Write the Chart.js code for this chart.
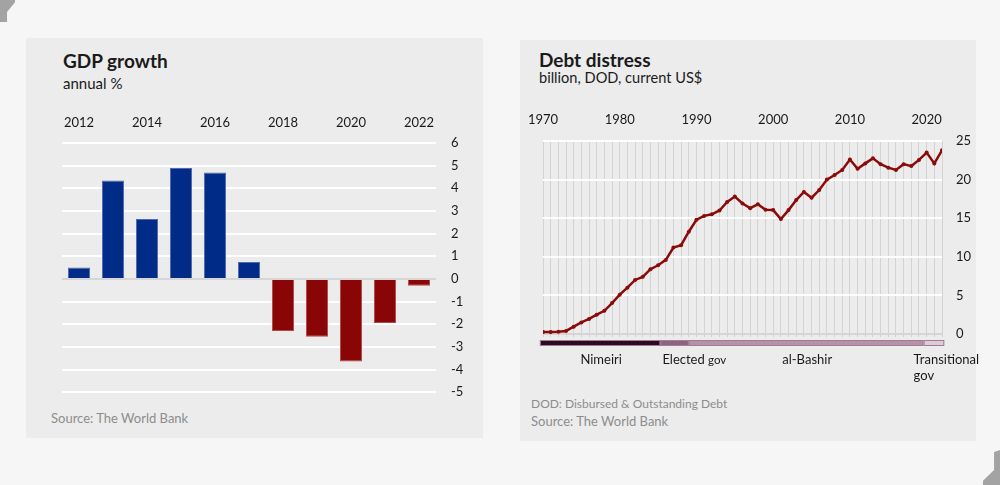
<!DOCTYPE html>
<html>
<head>
<meta charset="utf-8">
<script src="https://cdn.jsdelivr.net/npm/chart.js@4"></script>
<style>
  body { margin: 0; width: 1000px; height: 485px; background: #f6f6f6; position: relative; overflow: hidden; font-family: Lato, sans-serif; color: #1a1a1a; }
  .panel { position: absolute; background: #ececec; }
  .txt { position: absolute; white-space: nowrap; line-height: 1; }
  .title { font-size: 19px; font-weight: bold; }
  .sub { font-size: 15px; }
  .note { font-size: 13px; color: #8c8c8c; }
  canvas { position: absolute; }
  .corner { position: absolute; background: #a3a3a3; }
</style>
</head>
<body>
<div class="corner" style="left:0;top:0;width:15px;height:22px;clip-path:polygon(0 0,100% 0,100% 10%,47% 55%,47% 100%,0 100%);"></div>
<div class="corner" style="left:983px;top:450px;width:17px;height:35px;clip-path:polygon(100% 0,100% 100%,0 100%,0 88%,65% 57%,65% 6%);"></div>

<div class="panel" style="left:26px;top:38px;width:457px;height:400px;"></div>
<div class="panel" style="left:520px;top:40px;width:456px;height:401px;"></div>

<div class="txt title" style="left:63px;top:51px;">GDP growth</div>
<div class="txt sub" style="left:63px;top:76px;">annual %</div>
<div class="txt note" style="left:51px;top:412px;">Source: The World Bank</div>

<div class="txt title" style="left:539px;top:50px;">Debt distress</div>
<div class="txt sub" style="left:539px;top:71px;font-size:14.6px;">billion, DOD, current US$</div>
<div class="txt note" style="left:531px;top:398px;font-size:12px;">DOD: Disbursed &amp; Outstanding Debt</div>
<div class="txt note" style="left:531px;top:415px;">Source: The World Bank</div>

<canvas id="gdp" width="457" height="315" style="left:26px;top:100px;"></canvas>
<canvas id="debt" width="480" height="300" style="left:520px;top:100px;"></canvas>

<script>
// GDP growth, annual %
const gdpYears = ['2012', '2013', '2014', '2015', '2016', '2017', '2018', '2019', '2020', '2021', '2022'];
const gdpGrowth = [0.5, 4.35, 2.65, 4.9, 4.7, 0.75, -2.3, -2.55, -3.65, -1.95, -0.3];
const gdpYearLabels = ['2012', '2014', '2016', '2018', '2020', '2022'];

// external debt stocks, billion current US$
const debtYears = Array.from({ length: 53 }, (_, i) => 1970 + i);
const debtValues = [
  0.25, 0.25, 0.3, 0.4, 0.95, 1.5, 1.95, 2.5, 3.0, 4.0,
  5.1, 6.0, 7.0, 7.4, 8.4, 8.9, 9.6, 11.2, 11.5, 13.25,
  14.8, 15.3, 15.5, 16.0, 17.1, 17.8, 16.9, 16.3, 16.8, 16.1,
  16.05, 14.9, 16.05, 17.35, 18.4, 17.65, 18.65, 20.0, 20.6, 21.25,
  22.6, 21.4, 22.1, 22.75, 22.0, 21.55, 21.25, 22.0, 21.75, 22.55,
  23.5, 22.1, 23.8
];
const debtYearLabels = [1970, 1980, 1990, 2000, 2010, 2020];

// governments along the time axis
const eraNames = ['Nimeiri', 'Elected gov', 'al-Bashir', 'Transitional gov'];
const eraStart = [1969.6, 1985.3, 1989.0, 2019.6];
const eraEnd = [1985.3, 1989.0, 2019.6, 2022.3];

const eraColors = ['#2b0b20', '#8c6480', '#b592a8', '#dcccd6'];
const ink = '#1a1a1a';

Chart.defaults.font.family = 'Lato, sans-serif';
Chart.defaults.color = ink;

new Chart(document.getElementById('gdp'), {
  type: 'bar',
  data: {
    labels: gdpYears,
    datasets: [{
      data: gdpGrowth,
      backgroundColor: c => c.raw >= 0 ? '#002b87' : '#8a0505',
      borderColor: c => c.raw >= 0 ? '#5068b0' : '#b04a4a',
      borderWidth: 1,
      categoryPercentage: 1,
      barPercentage: 0.65
    }]
  },
  options: {
    responsive: false,
    animation: false,
    layout: { padding: { left: 36, right: 0, top: 0, bottom: 0 } },
    plugins: { legend: { display: false }, tooltip: { enabled: false } },
    scales: {
      x: {
        position: 'top',
        grid: { display: false },
        border: { display: false },
        ticks: {
          autoSkip: false, maxRotation: 0, padding: 4, font: { size: 13 },
          callback: function (v) {
            const l = this.getLabelForValue(v);
            return gdpYearLabels.includes(l) ? l : '';
          }
        },
        afterFit: s => { s.height = 43; }
      },
      y: {
        position: 'right',
        min: -5, max: 6,
        ticks: { stepSize: 1, padding: 15, font: { size: 13 } },
        grid: { color: c => c.tick.value === 0 ? '#d6d6d6' : '#ffffff', lineWidth: 2, drawTicks: false },
        border: { display: false },
        afterFit: s => { s.width = 47; }
      }
    }
  }
});

const eraPlugin = {
  id: 'eras',
  afterDraw(chart) {
    const { ctx, chartArea } = chart;
    const xs = chart.scales.x;
    const top = chartArea.bottom + 6;
    const base = chartArea.bottom + 30;
    ctx.save();
    eraStart.forEach((s, i) => {
      const x0 = xs.getPixelForValue(s);
      const x1 = xs.getPixelForValue(eraEnd[i]);
      ctx.fillStyle = eraColors[i];
      ctx.fillRect(x0, top, x1 - x0, 6);
      ctx.strokeStyle = '#a27c94';
      ctx.lineWidth = 1;
      ctx.strokeRect(x0 + 0.5, top + 0.5, x1 - x0 - 1, 5);
    });
    ctx.fillStyle = ink;
    ctx.textBaseline = 'alphabetic';
    const big = '13px Lato, sans-serif';
    ctx.font = big;
    eraNames.forEach((name, i) => {
      const x0 = xs.getPixelForValue(eraStart[i]);
      const x1 = xs.getPixelForValue(eraEnd[i]);
      if (i === 0 || i === 2) {
        ctx.textAlign = 'center';
        ctx.fillText(name, (x0 + x1) / 2 + 1, base);
      } else if (i === 1) {
        const parts = name.split(' ');
        ctx.textAlign = 'left';
        ctx.fillText(parts[0], x0 + 2, base);
        const w = ctx.measureText(parts[0] + ' ').width;
        ctx.font = '11.5px Lato, sans-serif';
        ctx.fillText(parts[1], x0 + 2 + w, base);
        ctx.font = big;
      } else {
        const parts = name.split(' ');
        ctx.textAlign = 'left';
        ctx.fillText(parts[0], x0 - 10, base);
        ctx.fillText(parts[1], x0 - 10, base + 16);
      }
    });
    ctx.restore();
  }
};

new Chart(document.getElementById('debt'), {
  type: 'line',
  data: {
    labels: debtYears,
    datasets: [{
      data: debtValues,
      borderColor: '#8b0a0a',
      backgroundColor: '#8b0a0a',
      borderWidth: 2.5,
      pointRadius: 2,
      pointBorderWidth: 0,
      tension: 0
    }]
  },
  options: {
    responsive: false,
    animation: false,
    layout: { padding: { left: 23, right: 0, top: 0, bottom: 0 } },
    plugins: { legend: { display: false }, tooltip: { enabled: false } },
    scales: {
      x: {
        type: 'linear',
        position: 'top',
        min: 1970, max: 2022,
        z: -1,
        ticks: {
          stepSize: 1, autoSkip: false, maxRotation: 0, padding: 13, font: { size: 13 },
          callback: v => debtYearLabels.includes(v) ? String(v) : ''
        },
        grid: { color: '#d3d3d3', lineWidth: 1, drawTicks: false },
        border: { display: false },
        afterFit: s => { s.height = 41; s.paddingLeft = 0; s.paddingRight = 0; }
      },
      x2: {
        type: 'linear',
        position: 'bottom',
        min: 1970, max: 2022,
        ticks: { stepSize: 1, autoSkip: false, display: false },
        grid: { color: '#cfcfcf', drawOnChartArea: false, tickLength: 3 },
        border: { display: false },
        afterFit: s => { s.height = 66; s.paddingLeft = 0; s.paddingRight = 0; }
      },
      y: {
        position: 'right',
        min: 0, max: 25,
        ticks: { stepSize: 5, padding: 14, font: { size: 13 } },
        grid: { color: c => c.tick.value === 0 ? '#d5d5d5' : '#ffffff', lineWidth: 2, drawTicks: false },
        border: { display: false },
        afterFit: s => { s.width = 58; }
      }
    }
  },
  plugins: [eraPlugin]
});
</script>
</body>
</html>
